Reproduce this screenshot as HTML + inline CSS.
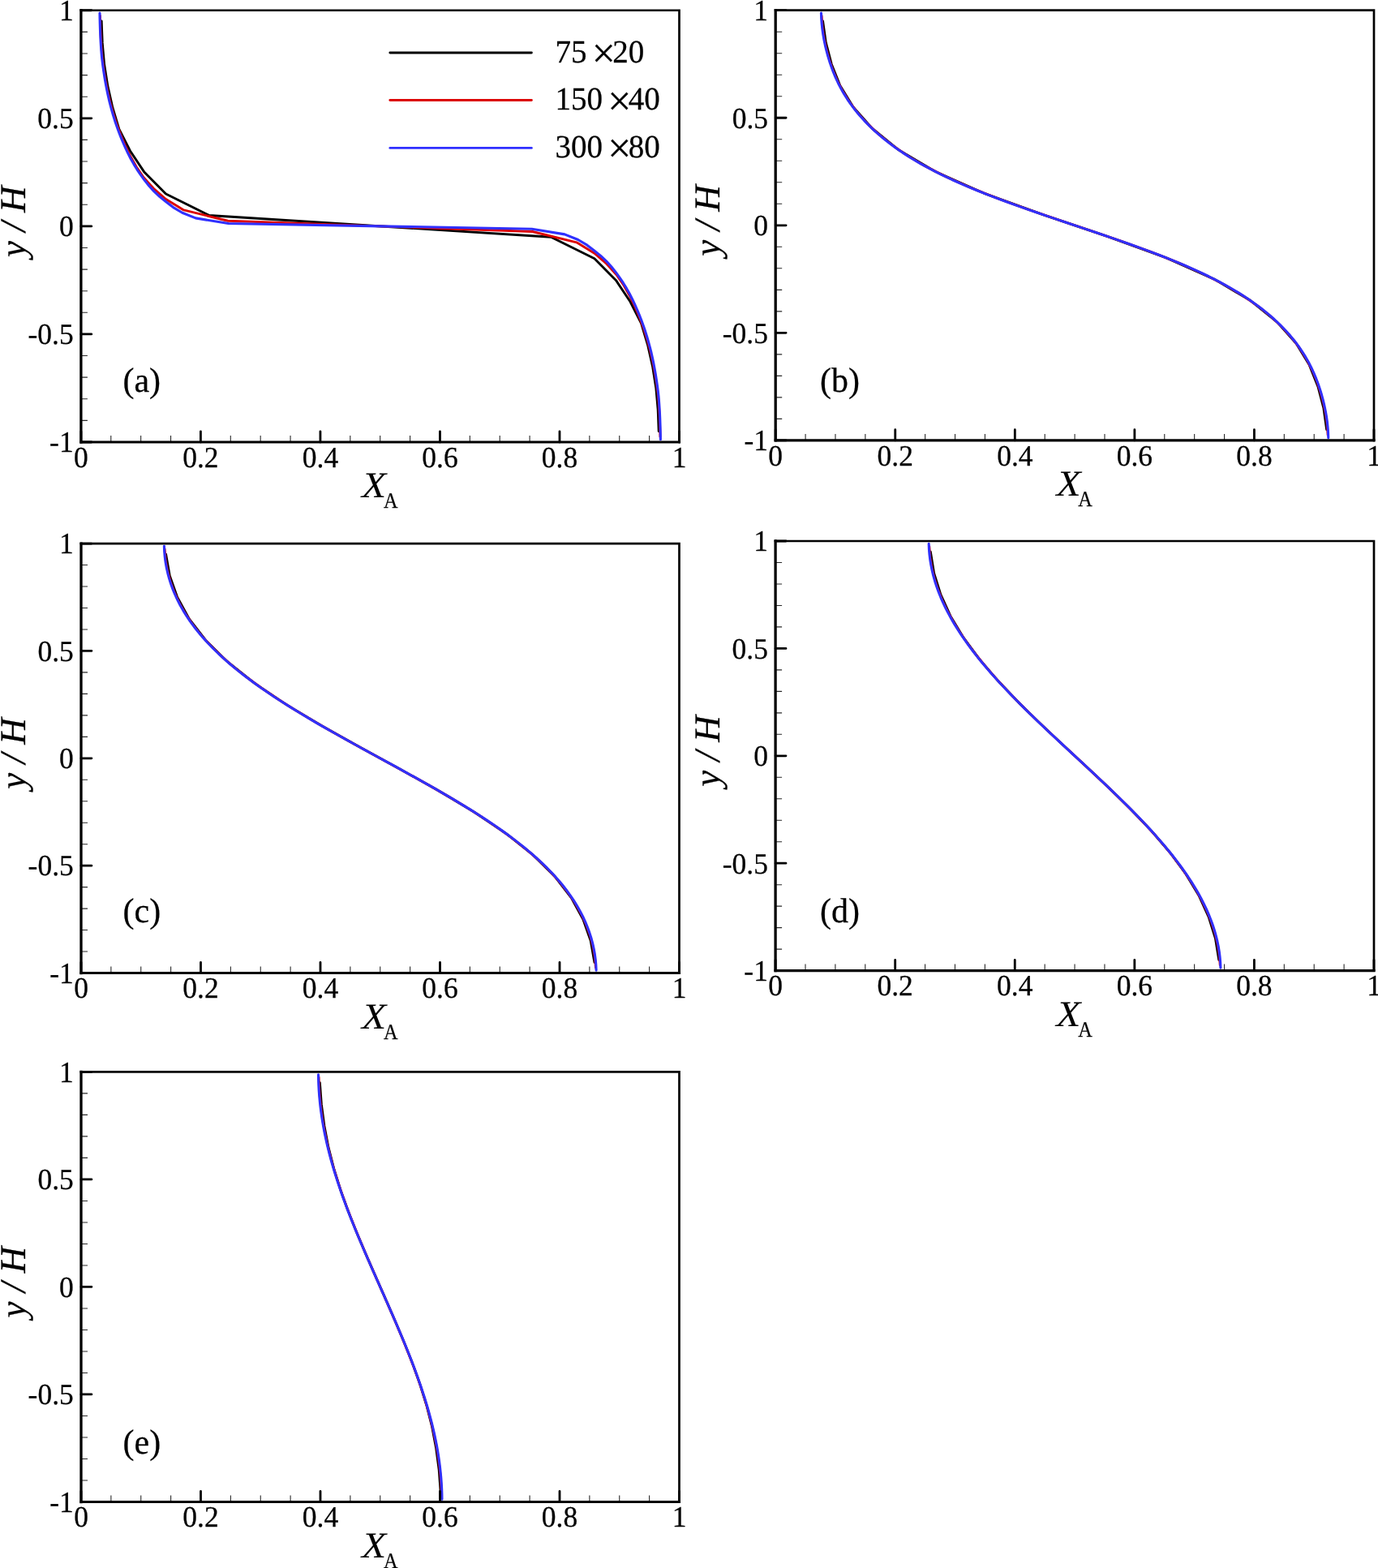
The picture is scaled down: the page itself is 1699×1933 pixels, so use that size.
<!DOCTYPE html>
<html lang="en">
<head>
<meta charset="utf-8">
<title>Grid convergence of X_A profiles</title>
<style>
html,body{margin:0;padding:0;background:#fff;}
body{width:1699px;height:1933px;overflow:hidden;font-family:"Liberation Serif",serif;}
svg{display:block;}
</style>
</head>
<body>
<svg width="1699" height="1933" viewBox="0 0 1699 1933" text-rendering="geometricPrecision">
<rect width="1699" height="1933" fill="#fff"/>
<g id="panel-a">
<g fill="none" stroke-linejoin="round" stroke-linecap="round">
<polyline points="125.16,26.06 126.19,52.67 128.57,79.28 132.79,105.89 138.81,132.51 146.81,159.12 160.31,185.73 178.01,212.34 204.49,238.96 257.97,265.57 679.43,292.18 732.91,318.79 759.39,345.41 777.09,372.02 790.59,398.63 798.59,425.24 804.61,451.86 808.83,478.47 811.21,505.08 812.24,531.69" stroke="#000000" stroke-width="2.9"/>
<polyline points="123.42,19.4 123.78,32.71 124.31,46.02 125.13,59.32 126.3,72.63 128.09,85.93 130.22,99.24 132.81,112.55 135.87,125.85 139.54,139.16 143.77,152.47 148.71,165.77 154.3,179.08 160.69,192.38 168.24,205.69 177.28,219 189.3,232.3 204.49,245.61 226.47,258.92 280.98,272.22 656.42,285.53 710.93,298.83 732.91,312.14 748.1,325.45 760.12,338.75 769.16,352.06 776.71,365.37 783.1,378.67 788.69,391.98 793.63,405.28 797.86,418.59 801.53,431.9 804.59,445.2 807.18,458.51 809.31,471.82 811.1,485.12 812.27,498.43 813.09,511.73 813.62,525.04 813.98,538.35" stroke="#dc0000" stroke-width="2.9"/>
<polyline points="122.99,16.08 123.09,22.73 123.26,29.38 123.46,36.04 123.7,42.69 124.02,49.34 124.41,56 124.87,62.65 125.42,69.3 126.16,75.95 127.04,82.61 128.01,89.26 129.04,95.91 130.18,102.57 131.44,109.22 132.81,115.87 134.29,122.53 135.94,129.18 137.74,135.83 139.68,142.49 141.74,149.14 143.99,155.79 146.41,162.45 149,169.1 151.74,175.75 154.67,182.4 157.82,189.06 161.22,195.71 164.94,202.36 169.02,209.02 173.48,215.67 178.32,222.32 183.6,228.98 189.63,235.63 196.72,242.28 205.01,248.94 213.56,255.59 224.7,262.24 241.22,268.9 281.64,275.55 655.76,282.2 696.18,288.85 712.7,295.51 723.84,302.16 732.39,308.81 740.68,315.47 747.77,322.12 753.8,328.77 759.08,335.43 763.92,342.08 768.38,348.73 772.46,355.39 776.18,362.04 779.58,368.69 782.73,375.35 785.66,382 788.4,388.65 790.99,395.3 793.41,401.96 795.66,408.61 797.72,415.26 799.66,421.92 801.46,428.57 803.11,435.22 804.59,441.88 805.96,448.53 807.22,455.18 808.36,461.84 809.39,468.49 810.36,475.14 811.24,481.8 811.98,488.45 812.53,495.1 812.99,501.75 813.38,508.41 813.7,515.06 813.94,521.71 814.14,528.37 814.31,535.02 814.41,541.67" stroke="#3030ff" stroke-width="3.1"/>
</g>
<path d="M136.78,545V537M173.66,545V537M210.54,545V537M284.3,545V537M321.18,545V537M358.06,545V537M431.82,545V537M468.7,545V537M505.58,545V537M579.34,545V537M616.22,545V537M653.1,545V537M726.86,545V537M763.74,545V537M800.62,545V537M99.9,518.39H107.9M99.9,491.78H107.9M99.9,465.16H107.9M99.9,438.55H107.9M99.9,385.32H107.9M99.9,358.71H107.9M99.9,332.1H107.9M99.9,305.49H107.9M99.9,252.26H107.9M99.9,225.65H107.9M99.9,199.04H107.9M99.9,172.42H107.9M99.9,119.2H107.9M99.9,92.59H107.9M99.9,65.97H107.9M99.9,39.36H107.9" stroke="#2a2a2a" stroke-width="1.1" fill="none"/>
<path d="M99.9,545V531.8M247.42,545V531.8M394.94,545V531.8M542.46,545V531.8M689.98,545V531.8M837.5,545V531.8M99.9,545H112.8M99.9,411.94H112.8M99.9,278.88H112.8M99.9,145.81H112.8M99.9,12.75H112.8" stroke="#000" stroke-width="2.8" fill="none" stroke-linecap="round"/>
<path d="M99.9,12.75H837.5V545" fill="none" stroke="#000" stroke-width="2.7" stroke-linejoin="miter" stroke-linecap="square"/>
<path d="M99.9,545H837.5" fill="none" stroke="#000" stroke-width="3.1" stroke-linecap="square"/>
<path d="M99.9,12.75V545" fill="none" stroke="#000" stroke-width="3.3" stroke-linecap="square"/>
<g font-family="'Liberation Serif',serif" font-size="35.5" fill="#000" stroke="#000" stroke-width="0.25">
<text transform="translate(90.7,25.05) scale(1,1.025)" text-anchor="end">1</text>
<text transform="translate(90.7,158.11) scale(1,1.025)" text-anchor="end">0.5</text>
<text transform="translate(90.7,291.18) scale(1,1.025)" text-anchor="end">0</text>
<text transform="translate(90.7,424.24) scale(1,1.025)" text-anchor="end">-0.5</text>
<text transform="translate(90.7,557.3) scale(1,1.025)" text-anchor="end">-1</text>
<text transform="translate(99.9,575.8) scale(1,1.025)" text-anchor="middle">0</text>
<text transform="translate(247.42,575.8) scale(1,1.025)" text-anchor="middle">0.2</text>
<text transform="translate(394.94,575.8) scale(1,1.025)" text-anchor="middle">0.4</text>
<text transform="translate(542.46,575.8) scale(1,1.025)" text-anchor="middle">0.6</text>
<text transform="translate(689.98,575.8) scale(1,1.025)" text-anchor="middle">0.8</text>
<text transform="translate(837.5,575.8) scale(1,1.025)" text-anchor="middle">1</text>
</g>
<g font-family="'Liberation Serif',serif" fill="#000" stroke="#000" stroke-width="0.25">
<text transform="translate(461.1,613.3) scale(1.1,1)" font-size="45" font-style="italic" text-anchor="middle" stroke="none">X</text>
<text transform="translate(481.7,626.1) scale(0.9,1)" font-size="27" text-anchor="middle">A</text>
<text transform="translate(30.9,273.18) rotate(-90)" font-size="45" font-style="italic" text-anchor="middle" xml:space="preserve">y / H</text>
<text transform="translate(151.4,482.6) scale(1,1.02)" font-size="42">(a)</text>
</g>
<g stroke-width="2.8" stroke-linecap="round" fill="none">
<line x1="480.8" y1="65.0" x2="655.4" y2="65.0" stroke="#000000"/>
<line x1="480.8" y1="123.5" x2="655.4" y2="123.5" stroke="#dc0000"/>
<line x1="480.8" y1="182.4" x2="655.4" y2="182.4" stroke="#3030ff"/>
</g>
<g font-family="'Liberation Serif',serif" font-size="39.05" fill="#000" stroke="#000" stroke-width="0.25" xml:space="preserve">
<text transform="translate(684.4,77.1) scale(1,1.02)">75 <tspan font-size="51.55" dx="-3.52" dy="6.2">×</tspan><tspan dx="-3.52" dy="-6.2">20</tspan></text>
<text transform="translate(684.4,135.4) scale(1,1.02)">150 <tspan font-size="51.55" dx="-3.52" dy="6.2">×</tspan><tspan dx="-3.52" dy="-6.2">40</tspan></text>
<text transform="translate(684.4,194.0) scale(1,1.02)">300 <tspan font-size="51.55" dx="-3.52" dy="6.2">×</tspan><tspan dx="-3.52" dy="-6.2">80</tspan></text>
</g>
</g>
<g id="panel-b">
<g fill="none" stroke-linejoin="round" stroke-linecap="round">
<polyline points="1014.53,25.96 1018.28,52.47 1025.2,78.97 1035.8,105.49 1052,131.99 1075.53,158.5 1108.31,185.01 1153.2,211.52 1212.81,238.03 1285.82,264.55 1364.38,291.05 1437.39,317.56 1497,344.07 1541.89,370.58 1574.67,397.09 1598.2,423.6 1614.4,450.11 1625,476.62 1631.92,503.13 1635.67,529.64" stroke="#000000" stroke-width="2.9"/>
<polyline points="1013.06,19.33 1014.02,32.58 1015.9,45.84 1018.65,59.09 1022.22,72.35 1026.66,85.6 1032.16,98.86 1038.91,112.11 1047.15,125.37 1057.1,138.62 1068.95,151.88 1082.92,165.13 1099.31,178.39 1118.48,191.64 1140.85,204.9 1166.83,218.15 1196.63,231.41 1230.1,244.66 1266.7,257.92 1305.39,271.17 1344.81,284.43 1383.5,297.68 1420.1,310.94 1453.57,324.19 1483.37,337.45 1509.35,350.7 1531.72,363.96 1550.89,377.21 1567.28,390.47 1581.25,403.72 1593.1,416.98 1603.05,430.23 1611.29,443.49 1618.04,456.74 1623.54,470 1627.98,483.25 1631.55,496.51 1634.3,509.76 1636.18,523.02 1637.14,536.27" stroke="#dc0000" stroke-width="2.9"/>
<polyline points="1012.45,16.01 1012.69,22.64 1013.18,29.27 1013.89,35.9 1014.83,42.52 1015.99,49.15 1017.37,55.78 1018.95,62.41 1020.74,69.03 1022.75,75.66 1024.99,82.29 1027.48,88.92 1030.25,95.54 1033.31,102.17 1036.7,108.8 1040.45,115.43 1044.59,122.05 1049.13,128.68 1054.12,135.31 1059.57,141.94 1065.51,148.56 1071.96,155.19 1078.96,161.82 1086.54,168.45 1094.74,175.07 1103.61,181.7 1113.19,188.33 1123.55,194.96 1134.74,201.58 1146.82,208.21 1159.81,214.84 1173.76,221.47 1188.68,228.09 1204.54,234.72 1221.3,241.35 1238.9,247.98 1257.24,254.6 1276.17,261.23 1295.56,267.86 1315.22,274.49 1334.98,281.11 1354.64,287.74 1374.03,294.37 1392.96,301 1411.3,307.62 1428.9,314.25 1445.66,320.88 1461.52,327.51 1476.44,334.13 1490.39,340.76 1503.38,347.39 1515.46,354.02 1526.65,360.64 1537.01,367.27 1546.59,373.9 1555.46,380.53 1563.66,387.15 1571.24,393.78 1578.24,400.41 1584.69,407.04 1590.63,413.66 1596.08,420.29 1601.07,426.92 1605.61,433.55 1609.75,440.17 1613.5,446.8 1616.89,453.43 1619.95,460.06 1622.72,466.68 1625.21,473.31 1627.45,479.94 1629.46,486.57 1631.25,493.19 1632.83,499.82 1634.21,506.45 1635.37,513.08 1636.31,519.7 1637.02,526.33 1637.51,532.96 1637.75,539.59" stroke="#3030ff" stroke-width="3.1"/>
</g>
<path d="M993.09,542.9V534.9M1029.98,542.9V534.9M1066.87,542.9V534.9M1140.65,542.9V534.9M1177.54,542.9V534.9M1214.43,542.9V534.9M1288.21,542.9V534.9M1325.1,542.9V534.9M1361.99,542.9V534.9M1435.77,542.9V534.9M1472.66,542.9V534.9M1509.55,542.9V534.9M1583.33,542.9V534.9M1620.22,542.9V534.9M1657.11,542.9V534.9M956.2,516.39H964.2M956.2,489.88H964.2M956.2,463.37H964.2M956.2,436.86H964.2M956.2,383.84H964.2M956.2,357.33H964.2M956.2,330.82H964.2M956.2,304.31H964.2M956.2,251.29H964.2M956.2,224.78H964.2M956.2,198.27H964.2M956.2,171.76H964.2M956.2,118.74H964.2M956.2,92.23H964.2M956.2,65.72H964.2M956.2,39.21H964.2" stroke="#2a2a2a" stroke-width="1.1" fill="none"/>
<path d="M956.2,542.9V529.7M1103.76,542.9V529.7M1251.32,542.9V529.7M1398.88,542.9V529.7M1546.44,542.9V529.7M1694,542.9V529.7M956.2,542.9H969.1M956.2,410.35H969.1M956.2,277.8H969.1M956.2,145.25H969.1M956.2,12.7H969.1" stroke="#000" stroke-width="2.8" fill="none" stroke-linecap="round"/>
<path d="M956.2,12.7H1694V542.9" fill="none" stroke="#000" stroke-width="2.7" stroke-linejoin="miter" stroke-linecap="square"/>
<path d="M956.2,542.9H1694" fill="none" stroke="#000" stroke-width="3.1" stroke-linecap="square"/>
<path d="M956.2,12.7V542.9" fill="none" stroke="#000" stroke-width="3.3" stroke-linecap="square"/>
<g font-family="'Liberation Serif',serif" font-size="35.5" fill="#000" stroke="#000" stroke-width="0.25">
<text transform="translate(947,25) scale(1,1.025)" text-anchor="end">1</text>
<text transform="translate(947,157.55) scale(1,1.025)" text-anchor="end">0.5</text>
<text transform="translate(947,290.1) scale(1,1.025)" text-anchor="end">0</text>
<text transform="translate(947,422.65) scale(1,1.025)" text-anchor="end">-0.5</text>
<text transform="translate(947,555.2) scale(1,1.025)" text-anchor="end">-1</text>
<text transform="translate(956.2,573.7) scale(1,1.025)" text-anchor="middle">0</text>
<text transform="translate(1103.76,573.7) scale(1,1.025)" text-anchor="middle">0.2</text>
<text transform="translate(1251.32,573.7) scale(1,1.025)" text-anchor="middle">0.4</text>
<text transform="translate(1398.88,573.7) scale(1,1.025)" text-anchor="middle">0.6</text>
<text transform="translate(1546.44,573.7) scale(1,1.025)" text-anchor="middle">0.8</text>
<text transform="translate(1694,573.7) scale(1,1.025)" text-anchor="middle">1</text>
</g>
<g font-family="'Liberation Serif',serif" fill="#000" stroke="#000" stroke-width="0.25">
<text transform="translate(1317.5,611.2) scale(1.1,1)" font-size="45" font-style="italic" text-anchor="middle" stroke="none">X</text>
<text transform="translate(1338.1,624) scale(0.9,1)" font-size="27" text-anchor="middle">A</text>
<text transform="translate(887.2,272.1) rotate(-90)" font-size="45" font-style="italic" text-anchor="middle" xml:space="preserve">y / H</text>
<text transform="translate(1011,482.7) scale(1,1.02)" font-size="42">(b)</text>
</g>
</g>
<g id="panel-c">
<g fill="none" stroke-linejoin="round" stroke-linecap="round">
<polyline points="204.57,683.34 209.26,709.81 218.62,736.27 233.09,762.75 253.55,789.22 280.39,815.69 313.68,842.15 353.01,868.62 397.16,895.1 444.52,921.57 492.98,948.04 540.34,974.51 584.49,1000.98 623.82,1027.45 657.11,1053.91 683.95,1080.38 704.41,1106.86 718.88,1133.33 728.24,1159.8 732.93,1186.27" stroke="#000000" stroke-width="2.9"/>
<polyline points="203.03,676.72 204.19,689.95 206.53,703.19 210.08,716.42 214.87,729.66 220.95,742.89 228.4,756.13 237.29,769.36 247.68,782.6 259.62,795.83 273.15,809.07 288.27,822.3 304.97,835.54 323.2,848.77 342.85,862.01 363.81,875.24 385.89,888.48 408.88,901.71 432.55,914.95 456.63,928.18 480.87,941.42 504.95,954.65 528.62,967.89 551.61,981.12 573.69,994.36 594.65,1007.59 614.3,1020.83 632.53,1034.06 649.23,1047.3 664.35,1060.53 677.88,1073.77 689.82,1087 700.21,1100.24 709.1,1113.47 716.55,1126.71 722.63,1139.94 727.42,1153.18 730.97,1166.41 733.31,1179.65 734.47,1192.88" stroke="#dc0000" stroke-width="2.9"/>
<polyline points="202.4,673.41 202.69,680.03 203.27,686.64 204.15,693.26 205.32,699.88 206.79,706.5 208.56,713.11 210.65,719.73 213.05,726.35 215.78,732.97 218.83,739.58 222.23,746.2 225.98,752.82 230.08,759.44 234.54,766.05 239.37,772.67 244.59,779.29 250.18,785.91 256.17,792.52 262.55,799.14 269.33,805.76 276.51,812.38 284.08,818.99 292.05,825.61 300.42,832.23 309.17,838.85 318.29,845.46 327.78,852.08 337.62,858.7 347.8,865.32 358.29,871.93 369.08,878.55 380.13,885.17 391.43,891.79 402.95,898.4 414.65,905.02 426.51,911.64 438.49,918.26 450.56,924.87 462.68,931.49 474.82,938.11 486.94,944.73 499.01,951.34 510.99,957.96 522.85,964.58 534.55,971.2 546.07,977.81 557.37,984.43 568.42,991.05 579.21,997.67 589.7,1004.28 599.88,1010.9 609.72,1017.52 619.21,1024.14 628.33,1030.75 637.08,1037.37 645.45,1043.99 653.42,1050.61 660.99,1057.22 668.17,1063.84 674.95,1070.46 681.33,1077.08 687.32,1083.69 692.91,1090.31 698.13,1096.93 702.96,1103.55 707.42,1110.16 711.52,1116.78 715.27,1123.4 718.67,1130.02 721.72,1136.63 724.45,1143.25 726.85,1149.87 728.94,1156.49 730.71,1163.1 732.18,1169.72 733.35,1176.34 734.23,1182.96 734.81,1189.57 735.1,1196.19" stroke="#3030ff" stroke-width="3.1"/>
</g>
<path d="M136.88,1199.5V1191.5M173.75,1199.5V1191.5M210.62,1199.5V1191.5M284.38,1199.5V1191.5M321.25,1199.5V1191.5M358.12,1199.5V1191.5M431.88,1199.5V1191.5M468.75,1199.5V1191.5M505.63,1199.5V1191.5M579.38,1199.5V1191.5M616.25,1199.5V1191.5M653.12,1199.5V1191.5M726.88,1199.5V1191.5M763.75,1199.5V1191.5M800.62,1199.5V1191.5M100,1173.03H108M100,1146.56H108M100,1120.09H108M100,1093.62H108M100,1040.68H108M100,1014.21H108M100,987.74H108M100,961.27H108M100,908.33H108M100,881.86H108M100,855.39H108M100,828.92H108M100,775.98H108M100,749.51H108M100,723.04H108M100,696.57H108" stroke="#2a2a2a" stroke-width="1.1" fill="none"/>
<path d="M100,1199.5V1186.3M247.5,1199.5V1186.3M395,1199.5V1186.3M542.5,1199.5V1186.3M690,1199.5V1186.3M837.5,1199.5V1186.3M100,1199.5H112.9M100,1067.15H112.9M100,934.8H112.9M100,802.45H112.9M100,670.1H112.9" stroke="#000" stroke-width="2.8" fill="none" stroke-linecap="round"/>
<path d="M100,670.1H837.5V1199.5" fill="none" stroke="#000" stroke-width="2.7" stroke-linejoin="miter" stroke-linecap="square"/>
<path d="M100,1199.5H837.5" fill="none" stroke="#000" stroke-width="3.1" stroke-linecap="square"/>
<path d="M100,670.1V1199.5" fill="none" stroke="#000" stroke-width="3.3" stroke-linecap="square"/>
<g font-family="'Liberation Serif',serif" font-size="35.5" fill="#000" stroke="#000" stroke-width="0.25">
<text transform="translate(90.8,682.4) scale(1,1.025)" text-anchor="end">1</text>
<text transform="translate(90.8,814.75) scale(1,1.025)" text-anchor="end">0.5</text>
<text transform="translate(90.8,947.1) scale(1,1.025)" text-anchor="end">0</text>
<text transform="translate(90.8,1079.45) scale(1,1.025)" text-anchor="end">-0.5</text>
<text transform="translate(90.8,1211.8) scale(1,1.025)" text-anchor="end">-1</text>
<text transform="translate(100,1230.3) scale(1,1.025)" text-anchor="middle">0</text>
<text transform="translate(247.5,1230.3) scale(1,1.025)" text-anchor="middle">0.2</text>
<text transform="translate(395,1230.3) scale(1,1.025)" text-anchor="middle">0.4</text>
<text transform="translate(542.5,1230.3) scale(1,1.025)" text-anchor="middle">0.6</text>
<text transform="translate(690,1230.3) scale(1,1.025)" text-anchor="middle">0.8</text>
<text transform="translate(837.5,1230.3) scale(1,1.025)" text-anchor="middle">1</text>
</g>
<g font-family="'Liberation Serif',serif" fill="#000" stroke="#000" stroke-width="0.25">
<text transform="translate(461.15,1267.8) scale(1.1,1)" font-size="45" font-style="italic" text-anchor="middle" stroke="none">X</text>
<text transform="translate(481.75,1280.6) scale(0.9,1)" font-size="27" text-anchor="middle">A</text>
<text transform="translate(31,929.1) rotate(-90)" font-size="45" font-style="italic" text-anchor="middle" xml:space="preserve">y / H</text>
<text transform="translate(151.5,1137.4) scale(1,1.02)" font-size="42">(c)</text>
</g>
</g>
<g id="panel-d">
<g fill="none" stroke-linejoin="round" stroke-linecap="round">
<polyline points="1147.32,680.24 1151.63,706.72 1159.92,733.2 1172.01,759.68 1188.02,786.16 1207.58,812.64 1230.27,839.12 1255.53,865.6 1282.6,892.08 1310.77,918.56 1339.33,945.04 1367.5,971.52 1394.57,998 1419.83,1024.48 1442.52,1050.96 1462.08,1077.44 1478.09,1103.92 1490.18,1130.4 1498.47,1156.88 1502.78,1183.36" stroke="#000000" stroke-width="2.9"/>
<polyline points="1145.8,673.62 1146.89,686.86 1149.05,700.1 1152.27,713.34 1156.53,726.58 1161.8,739.82 1168.08,753.06 1175.32,766.3 1183.5,779.54 1192.56,792.78 1202.46,806.02 1213.13,819.26 1224.53,832.5 1236.58,845.74 1249.2,858.98 1262.32,872.22 1275.83,885.46 1289.66,898.7 1303.72,911.94 1317.93,925.18 1332.17,938.42 1346.38,951.66 1360.44,964.9 1374.27,978.14 1387.78,991.38 1400.9,1004.62 1413.52,1017.86 1425.57,1031.1 1436.97,1044.34 1447.64,1057.58 1457.54,1070.82 1466.6,1084.06 1474.78,1097.3 1482.02,1110.54 1488.3,1123.78 1493.57,1137.02 1497.83,1150.26 1501.05,1163.5 1503.21,1176.74 1504.3,1189.98" stroke="#dc0000" stroke-width="2.9"/>
<polyline points="1145.18,670.31 1145.45,676.93 1146,683.55 1146.81,690.17 1147.89,696.79 1149.24,703.41 1150.85,710.03 1152.73,716.65 1154.87,723.27 1157.27,729.89 1159.92,736.51 1162.83,743.13 1165.99,749.75 1169.39,756.37 1173.03,762.99 1176.91,769.61 1181.01,776.23 1185.34,782.85 1189.89,789.47 1194.65,796.09 1199.62,802.71 1204.78,809.33 1210.14,815.95 1215.68,822.57 1221.39,829.19 1227.27,835.81 1233.3,842.43 1239.49,849.05 1245.81,855.67 1252.26,862.29 1258.83,868.91 1265.51,875.53 1272.28,882.15 1279.14,888.77 1286.07,895.39 1293.07,902.01 1300.12,908.63 1307.22,915.25 1314.34,921.87 1321.48,928.49 1328.62,935.11 1335.76,941.73 1342.88,948.35 1349.98,954.97 1357.03,961.59 1364.03,968.21 1370.96,974.83 1377.82,981.45 1384.59,988.07 1391.27,994.69 1397.84,1001.31 1404.29,1007.93 1410.61,1014.55 1416.8,1021.17 1422.83,1027.79 1428.71,1034.41 1434.42,1041.03 1439.96,1047.65 1445.32,1054.27 1450.48,1060.89 1455.45,1067.51 1460.21,1074.13 1464.76,1080.75 1469.09,1087.37 1473.19,1093.99 1477.07,1100.61 1480.71,1107.23 1484.11,1113.85 1487.27,1120.47 1490.18,1127.09 1492.83,1133.71 1495.23,1140.33 1497.37,1146.95 1499.25,1153.57 1500.86,1160.19 1502.21,1166.81 1503.29,1173.43 1504.1,1180.05 1504.65,1186.67 1504.92,1193.29" stroke="#3030ff" stroke-width="3.1"/>
</g>
<path d="M993,1196.6V1188.6M1029.89,1196.6V1188.6M1066.79,1196.6V1188.6M1140.58,1196.6V1188.6M1177.47,1196.6V1188.6M1214.37,1196.6V1188.6M1288.15,1196.6V1188.6M1325.05,1196.6V1188.6M1361.95,1196.6V1188.6M1435.74,1196.6V1188.6M1472.63,1196.6V1188.6M1509.53,1196.6V1188.6M1583.32,1196.6V1188.6M1620.21,1196.6V1188.6M1657.11,1196.6V1188.6M956.1,1170.12H964.1M956.1,1143.64H964.1M956.1,1117.16H964.1M956.1,1090.68H964.1M956.1,1037.72H964.1M956.1,1011.24H964.1M956.1,984.76H964.1M956.1,958.28H964.1M956.1,905.32H964.1M956.1,878.84H964.1M956.1,852.36H964.1M956.1,825.88H964.1M956.1,772.92H964.1M956.1,746.44H964.1M956.1,719.96H964.1M956.1,693.48H964.1" stroke="#2a2a2a" stroke-width="1.1" fill="none"/>
<path d="M956.1,1196.6V1183.4M1103.68,1196.6V1183.4M1251.26,1196.6V1183.4M1398.84,1196.6V1183.4M1546.42,1196.6V1183.4M1694,1196.6V1183.4M956.1,1196.6H969M956.1,1064.2H969M956.1,931.8H969M956.1,799.4H969M956.1,667H969" stroke="#000" stroke-width="2.8" fill="none" stroke-linecap="round"/>
<path d="M956.1,667H1694V1196.6" fill="none" stroke="#000" stroke-width="2.7" stroke-linejoin="miter" stroke-linecap="square"/>
<path d="M956.1,1196.6H1694" fill="none" stroke="#000" stroke-width="3.1" stroke-linecap="square"/>
<path d="M956.1,667V1196.6" fill="none" stroke="#000" stroke-width="3.3" stroke-linecap="square"/>
<g font-family="'Liberation Serif',serif" font-size="35.5" fill="#000" stroke="#000" stroke-width="0.25">
<text transform="translate(946.9,679.3) scale(1,1.025)" text-anchor="end">1</text>
<text transform="translate(946.9,811.7) scale(1,1.025)" text-anchor="end">0.5</text>
<text transform="translate(946.9,944.1) scale(1,1.025)" text-anchor="end">0</text>
<text transform="translate(946.9,1076.5) scale(1,1.025)" text-anchor="end">-0.5</text>
<text transform="translate(946.9,1208.9) scale(1,1.025)" text-anchor="end">-1</text>
<text transform="translate(956.1,1227.4) scale(1,1.025)" text-anchor="middle">0</text>
<text transform="translate(1103.68,1227.4) scale(1,1.025)" text-anchor="middle">0.2</text>
<text transform="translate(1251.26,1227.4) scale(1,1.025)" text-anchor="middle">0.4</text>
<text transform="translate(1398.84,1227.4) scale(1,1.025)" text-anchor="middle">0.6</text>
<text transform="translate(1546.42,1227.4) scale(1,1.025)" text-anchor="middle">0.8</text>
<text transform="translate(1694,1227.4) scale(1,1.025)" text-anchor="middle">1</text>
</g>
<g font-family="'Liberation Serif',serif" fill="#000" stroke="#000" stroke-width="0.25">
<text transform="translate(1317.45,1264.9) scale(1.1,1)" font-size="45" font-style="italic" text-anchor="middle" stroke="none">X</text>
<text transform="translate(1338.05,1277.7) scale(0.9,1)" font-size="27" text-anchor="middle">A</text>
<text transform="translate(887.1,926.1) rotate(-90)" font-size="45" font-style="italic" text-anchor="middle" xml:space="preserve">y / H</text>
<text transform="translate(1011.1,1137.4) scale(1,1.02)" font-size="42">(d)</text>
</g>
</g>
<g id="panel-e">
<g fill="none" stroke-linejoin="round" stroke-linecap="round">
<polyline points="394.36,1334.65 396.3,1361.16 399.86,1387.66 404.9,1414.17 411.66,1440.67 419.92,1467.18 429.47,1493.68 440.05,1520.19 451.27,1546.69 462.88,1573.2 474.62,1599.7 486.23,1626.21 497.45,1652.71 508.03,1679.22 517.58,1705.72 525.84,1732.23 532.6,1758.73 537.64,1785.24 541.2,1811.74 543.14,1838.25" stroke="#000000" stroke-width="2.9"/>
<polyline points="393.07,1328.03 393.56,1341.28 394.53,1354.53 395.98,1367.78 397.87,1381.04 400.19,1394.29 402.94,1407.54 406.1,1420.79 409.65,1434.05 413.56,1447.3 417.81,1460.55 422.35,1473.8 427.17,1487.06 432.24,1500.31 437.52,1513.56 442.97,1526.81 448.56,1540.07 454.25,1553.32 460.02,1566.57 465.83,1579.82 471.67,1593.08 477.48,1606.33 483.25,1619.58 488.94,1632.83 494.53,1646.09 499.98,1659.34 505.26,1672.59 510.33,1685.84 515.15,1699.1 519.69,1712.35 523.94,1725.6 527.85,1738.85 531.4,1752.11 534.56,1765.36 537.31,1778.61 539.63,1791.86 541.52,1805.12 542.97,1818.37 543.94,1831.62 544.43,1844.87" stroke="#dc0000" stroke-width="2.9"/>
<polyline points="392.51,1324.71 392.63,1331.34 392.87,1337.97 393.24,1344.59 393.72,1351.22 394.33,1357.84 395.05,1364.47 395.9,1371.1 396.85,1377.72 397.92,1384.35 399.1,1390.98 400.39,1397.6 401.79,1404.23 403.29,1410.85 404.89,1417.48 406.58,1424.11 408.38,1430.73 410.26,1437.36 412.23,1443.99 414.29,1450.61 416.43,1457.24 418.64,1463.86 420.93,1470.49 423.29,1477.12 425.71,1483.74 428.2,1490.37 430.74,1497 433.34,1503.62 435.99,1510.25 438.69,1516.87 441.42,1523.5 444.2,1530.13 447.01,1536.75 449.84,1543.38 452.71,1550.01 455.6,1556.63 458.5,1563.26 461.42,1569.88 464.35,1576.51 467.28,1583.14 470.22,1589.76 473.15,1596.39 476.08,1603.02 479,1609.64 481.9,1616.27 484.79,1622.89 487.66,1629.52 490.49,1636.15 493.3,1642.77 496.08,1649.4 498.81,1656.03 501.51,1662.65 504.16,1669.28 506.76,1675.9 509.3,1682.53 511.79,1689.16 514.21,1695.78 516.57,1702.41 518.86,1709.04 521.07,1715.66 523.21,1722.29 525.27,1728.91 527.24,1735.54 529.12,1742.17 530.92,1748.79 532.61,1755.42 534.21,1762.05 535.71,1768.67 537.11,1775.3 538.4,1781.92 539.58,1788.55 540.65,1795.18 541.6,1801.8 542.45,1808.43 543.17,1815.06 543.78,1821.68 544.26,1828.31 544.63,1834.93 544.87,1841.56 544.99,1848.19" stroke="#3030ff" stroke-width="3.1"/>
</g>
<path d="M136.88,1851.5V1843.5M173.75,1851.5V1843.5M210.62,1851.5V1843.5M284.38,1851.5V1843.5M321.25,1851.5V1843.5M358.12,1851.5V1843.5M431.88,1851.5V1843.5M468.75,1851.5V1843.5M505.63,1851.5V1843.5M579.38,1851.5V1843.5M616.25,1851.5V1843.5M653.12,1851.5V1843.5M726.88,1851.5V1843.5M763.75,1851.5V1843.5M800.62,1851.5V1843.5M100,1824.99H108M100,1798.49H108M100,1771.99H108M100,1745.48H108M100,1692.47H108M100,1665.96H108M100,1639.46H108M100,1612.95H108M100,1559.94H108M100,1533.44H108M100,1506.93H108M100,1480.43H108M100,1427.42H108M100,1400.91H108M100,1374.41H108M100,1347.9H108" stroke="#2a2a2a" stroke-width="1.1" fill="none"/>
<path d="M100,1851.5V1838.3M247.5,1851.5V1838.3M395,1851.5V1838.3M542.5,1851.5V1838.3M690,1851.5V1838.3M837.5,1851.5V1838.3M100,1851.5H112.9M100,1718.97H112.9M100,1586.45H112.9M100,1453.93H112.9M100,1321.4H112.9" stroke="#000" stroke-width="2.8" fill="none" stroke-linecap="round"/>
<path d="M100,1321.4H837.5V1851.5" fill="none" stroke="#000" stroke-width="2.7" stroke-linejoin="miter" stroke-linecap="square"/>
<path d="M100,1851.5H837.5" fill="none" stroke="#000" stroke-width="3.1" stroke-linecap="square"/>
<path d="M100,1321.4V1851.5" fill="none" stroke="#000" stroke-width="3.3" stroke-linecap="square"/>
<g font-family="'Liberation Serif',serif" font-size="35.5" fill="#000" stroke="#000" stroke-width="0.25">
<text transform="translate(90.8,1333.7) scale(1,1.025)" text-anchor="end">1</text>
<text transform="translate(90.8,1466.23) scale(1,1.025)" text-anchor="end">0.5</text>
<text transform="translate(90.8,1598.75) scale(1,1.025)" text-anchor="end">0</text>
<text transform="translate(90.8,1731.27) scale(1,1.025)" text-anchor="end">-0.5</text>
<text transform="translate(90.8,1863.8) scale(1,1.025)" text-anchor="end">-1</text>
<text transform="translate(100,1882.3) scale(1,1.025)" text-anchor="middle">0</text>
<text transform="translate(247.5,1882.3) scale(1,1.025)" text-anchor="middle">0.2</text>
<text transform="translate(395,1882.3) scale(1,1.025)" text-anchor="middle">0.4</text>
<text transform="translate(542.5,1882.3) scale(1,1.025)" text-anchor="middle">0.6</text>
<text transform="translate(690,1882.3) scale(1,1.025)" text-anchor="middle">0.8</text>
<text transform="translate(837.5,1882.3) scale(1,1.025)" text-anchor="middle">1</text>
</g>
<g font-family="'Liberation Serif',serif" fill="#000" stroke="#000" stroke-width="0.25">
<text transform="translate(461.15,1919.8) scale(1.1,1)" font-size="45" font-style="italic" text-anchor="middle" stroke="none">X</text>
<text transform="translate(481.75,1932.6) scale(0.9,1)" font-size="27" text-anchor="middle">A</text>
<text transform="translate(31,1580.75) rotate(-90)" font-size="45" font-style="italic" text-anchor="middle" xml:space="preserve">y / H</text>
<text transform="translate(151.5,1791.7) scale(1,1.02)" font-size="42">(e)</text>
</g>
</g>
</svg>
</body>
</html>
